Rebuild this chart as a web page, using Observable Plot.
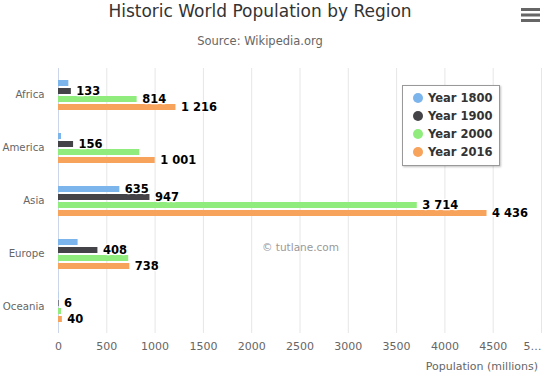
<!DOCTYPE html>
<html>
<head>
<meta charset="utf-8">
<script src="https://cdn.jsdelivr.net/npm/d3@7"></script>
<script src="https://cdn.jsdelivr.net/npm/@observablehq/plot@0.6"></script>
<style>
  html, body { margin: 0; padding: 0; background: #fff; }
  body { width: 545px; height: 376px; overflow: hidden; font-family: "DejaVu Sans", sans-serif; }
  #wrap { position: relative; width: 545px; height: 376px; }
  #title { position: absolute; left: 0; width: 520px; top: 1px; text-align: center; font-size: 17px; color: #333; }
  #subtitle { position: absolute; left: 0; width: 520px; top: 34px; text-align: center; font-size: 11.5px; color: #666; }
  #chart { position: absolute; left: 0; top: 55px; }
  #chart [aria-label^="fy-axis"] text { font-size: 10.2px; }
  #xlabel { position: absolute; right: 7px; top: 360px; font-size: 11px; color: #666; }
  #credit { position: absolute; left: 262px; top: 241px; font-size: 10.5px; color: #999; }
  #legend { position: absolute; left: 402px; top: 85px; width: 96px; height: 79px; border: 1px solid #999; background: #fff; box-shadow: 1px 1px 2px rgba(0,0,0,0.25); }
  .item { position: absolute; left: 10px; font-size: 11.5px; font-weight: bold; color: #333; white-space: nowrap; }
  .dot { display: inline-block; width: 10px; height: 10px; border-radius: 50%; vertical-align: -1px; margin-right: 5px; }
  #menu { position: absolute; left: 521px; top: 8px; }
</style>
</head>
<body>
<div id="wrap">
  <div id="title">Historic World Population by Region</div>
  <div id="subtitle">Source: Wikipedia.org</div>
  <div id="chart"></div>
  <div id="xlabel">Population (millions)</div>
  <div id="credit">© tutlane.com</div>
  <div id="legend"></div>
  <svg id="menu" width="19" height="14"><rect x="0" y="0" width="19" height="3" fill="#666"/><rect x="0" y="5.5" width="19" height="3" fill="#666"/><rect x="0" y="11" width="19" height="3" fill="#666"/></svg>
</div>
<script>
const regions = ["Africa", "America", "Asia", "Europe", "Oceania"];
const series = ["Year 1800", "Year 1900", "Year 2000", "Year 2016"];
const colors = ["#7cb5ec", "#434348", "#90ed7d", "#f7a35c"];
const y1800 = [107, 31, 635, 203, 2];
const y1900 = [133, 156, 947, 408, 6];
const y2000 = [814, 841, 3714, 727, 31];
const y2016 = [1216, 1001, 4436, 738, 40];
// which data labels are visible in the reference (others hidden by overlap)
const show1800 = [false, false, true, false, false];
const show1900 = [true, true, true, true, true];
const show2000 = [true, false, true, false, false];
const show2016 = [true, true, true, true, true];
const xTicks = [0, 500, 1000, 1500, 2000, 2500, 3000, 3500, 4000, 4500, 5000];

const values = [y1800, y1900, y2000, y2016];
const shows = [show1800, show1900, show2000, show2016];
const rows = [];
regions.forEach((r, i) => series.forEach((s, j) => rows.push({region: r, series: s, value: values[j][i], show: shows[j][i]})));

const fmt = v => d3.format(",")(v).replace(/,/g, " ");

const chart = Plot.plot({
  width: 545,
  height: 321,
  marginLeft: 58,
  marginRight: 4,
  marginTop: 12,
  marginBottom: 42,
  style: {fontFamily: "DejaVu Sans, sans-serif", fontSize: "11px", color: "#666", background: "transparent"},
  facet: {data: rows, y: "region"},
  fy: {domain: regions, padding: 0, label: null, tickSize: 0, tickPadding: 14},
  y: {domain: series, paddingInner: 0.29, paddingOuter: 1.45, axis: null},
  x: {domain: [0, 5000], ticks: xTicks, tickSize: 0, tickPadding: 9, label: null, tickFormat: d => d === 5000 ? "5…" : String(d)},
  color: {domain: series, range: colors},
  marks: [
    Plot.ruleX(xTicks.slice(1), {stroke: "#e6e6e6"}),
    Plot.ruleX([0], {stroke: "#ccd6eb"}),
    Plot.barX(rows, {x: "value", y: "series", fill: "series"}),
    Plot.text(rows, {filter: d => d.show, x: "value", y: "series", text: d => fmt(d.value), dx: 5, textAnchor: "start", fill: "#000", stroke: "#fff", strokeWidth: 2.5, fontWeight: "bold", fontSize: 11.5})
  ]
});
// Shift the truncated last tick label inward, as the reference does
d3.select(chart).selectAll("text").filter(function() { return this.textContent === "5…"; }).attr("dx", -9);
document.getElementById("chart").appendChild(chart);

const legend = document.getElementById("legend");
series.forEach((s, j) => {
  const d = document.createElement("div");
  d.className = "item";
  d.style.top = (5 + j * 18) + "px";
  d.innerHTML = `<span class="dot" style="background:${colors[j]}"></span>${s}`;
  legend.appendChild(d);
});
</script>
</body>
</html>
